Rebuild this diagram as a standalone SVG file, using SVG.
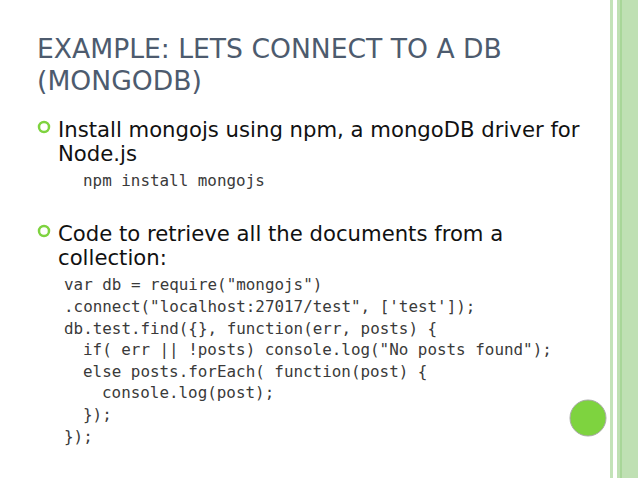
<svg xmlns="http://www.w3.org/2000/svg" width="638" height="478" viewBox="0 0 638 478">
<style>
.t{font-family:"DejaVu Sans",sans-serif;font-size:26.6px;fill:#4d5b6e}
.b{font-family:"DejaVu Sans",sans-serif;font-size:21.2px;fill:#111}
.c{font-family:"DejaVu Sans Mono",monospace;font-size:15.9px;fill:#3a3a3a}
.d{fill:none;stroke:#7ed33f;stroke-width:2.5}
</style>
<rect width="638" height="478" fill="#fff"/>
<rect x="610" y="0" width="3" height="478" fill="#c3e3b8"/>
<rect x="617" y="0" width="21" height="478" fill="#bfe0b3"/>
<rect x="620" y="0" width="2" height="478" fill="#a8d698"/>
<text class="t" x="37" y="58">EXAMPLE: LETS CONNECT TO A DB</text>
<text class="t" x="37" y="90">(MONGODB)</text>
<circle class="d" cx="44" cy="127" r="5"/>
<text class="b" x="58" y="137">Install mongojs using npm, a mongoDB driver for</text>
<text class="b" x="58" y="161">Node.js</text>
<text class="c" x="83" y="186">npm install mongojs</text>
<circle class="d" cx="44" cy="231" r="5"/>
<text class="b" x="58" y="241">Code to retrieve all the documents from a</text>
<text class="b" x="58" y="265">collection:</text>
<text class="c" x="64" y="290">var db = require("mongojs")</text>
<text class="c" x="64" y="312">.connect("localhost:27017/test", ['test']);</text>
<text class="c" x="64" y="334">db.test.find({}, function(err, posts) {</text>
<text class="c" x="83" y="355">if( err || !posts) console.log("No posts found");</text>
<text class="c" x="83" y="377">else posts.forEach( function(post) {</text>
<text class="c" x="102" y="398">console.log(post);</text>
<text class="c" x="83" y="420">});</text>
<text class="c" x="64" y="442">});</text>
<g id="dot"><circle cx="588" cy="418" r="18" fill="#7ed33f" stroke="#aaa" stroke-width="1"/></g>
</svg>
